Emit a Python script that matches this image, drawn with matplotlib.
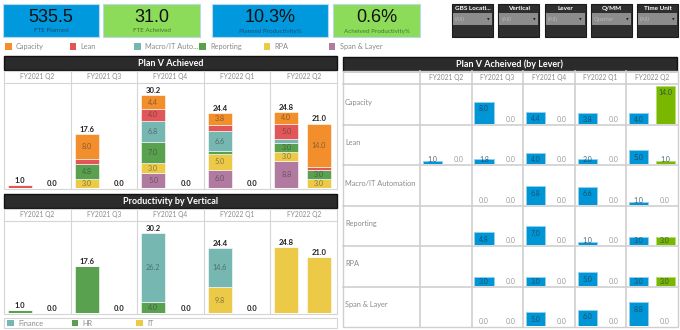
import matplotlib
matplotlib.use("Agg")
import matplotlib.pyplot as plt
from matplotlib.patches import Rectangle
import numpy as np

plt.rcParams['font.family'] = ['Lato', 'DejaVu Sans']

W, H = 680, 330

quarters = ['FY2021 Q2', 'FY2021 Q3', 'FY2021 Q4', 'FY2022 Q1', 'FY2022 Q2']
levers = ['Capacity', 'Lean', 'Macro/IT Automation', 'Reporting', 'RPA', 'Span & Layer']
lever_legend = ['Capacity', 'Lean', 'Macro/IT Auto...', 'Reporting', 'RPA', 'Span & Layer']
lever_colors = ['#F28E2B', '#E15759', '#76B7B2', '#59A14F', '#EDC948', '#B07AA1']

# None = no record for that quarter (blank cell in the lever table)
capacity_plan = [None, 8.0, 4.4, 3.8, 4.0]
capacity_ach = [None, 0.0, 0.0, 0.0, 14.0]
lean_plan = [1.0, 1.8, 4.0, 2.0, 5.0]
lean_ach = [0.0, 0.0, 0.0, 0.0, 1.0]
macro_plan = [None, 0.0, 6.8, 6.6, 1.0]
macro_ach = [None, 0.0, 0.0, 0.0, 0.0]
reporting_plan = [None, 4.8, 7.0, 1.0, 3.0]
reporting_ach = [None, 0.0, 0.0, 0.0, 3.0]
rpa_plan = [None, 3.0, 3.0, 5.0, 3.0]
rpa_ach = [None, 0.0, 0.0, 0.0, 3.0]
span_plan = [None, 0.0, 5.0, 6.0, 8.8]
span_ach = [None, 0.0, 0.0, 0.0, 0.0]

verticals = ['Finance', 'HR', 'IT']
vertical_colors = {'Finance': '#76B7B2', 'HR': '#59A14F', 'IT': '#EDC948'}
finance_plan = [0.0, 0.0, 26.2, 14.6, 0.0]
finance_ach = [0.0, 0.0, 0.0, 0.0, 0.0]
hr_plan = [1.0, 17.6, 4.0, 0.0, 0.0]
hr_ach = [0.0, 0.0, 0.0, 0.0, 0.0]
it_plan = [0.0, 0.0, 0.0, 9.8, 24.8]
it_ach = [0.0, 0.0, 0.0, 0.0, 21.0]

kpi_values = ['535.5', '31.0', '10.3%', '0.6%']
kpi_names = ['FTE Planned', 'FTE Acheived', 'Planned Productivity%', 'Acheived Productivity%']
filter_names = ['GBS Locati...', 'Vertical', 'Lever', 'Q/MM', 'Time Unit']
filter_values = ['(All)', '(All)', '(All)', 'Quarter', '(All)']

lever_plan = [capacity_plan, lean_plan, macro_plan, reporting_plan, rpa_plan, span_plan]
lever_ach = [capacity_ach, lean_ach, macro_ach, reporting_ach, rpa_ach, span_ach]


def clean(vals):  # treat missing as zero for stacking
    return [0.0 if v is None else v for v in vals]


def px_axes(fig, x0, y0, x1, y1):  # axes from pixel box, top-left origin
    ax = fig.add_axes([x0 / W, 1 - y1 / H, (x1 - x0) / W, (y1 - y0) / H])
    ax.set_facecolor('none')
    for s in ax.spines.values():
        s.set_visible(False)
    ax.set_xticks([])
    ax.set_yticks([])
    return ax


fig = plt.figure(figsize=(W / 100, H / 100), dpi=100)
fig.patch.set_facecolor('white')

bg = fig.add_axes([0, 0, 1, 1])
bg.set_xlim(0, W)
bg.set_ylim(H, 0)
bg.axis('off')

# KPI tiles
kpi_boxes = [(3, 99, '#0099DD'), (103, 200, '#8CDC5A'), (212, 328, '#0099DD'), (333, 420, '#8CDC5A')]
for (x0, x1, c), val, name in zip(kpi_boxes, kpi_values, kpi_names):
    bg.add_patch(Rectangle((x0, 4), x1 - x0, 33, facecolor=c, edgecolor='#b8d8ee', lw=0.8))
    sub = '#17507a' if c == '#0099DD' else '#3f7a2a'
    bg.text((x0 + x1) / 2, 18, val, ha='center', va='center', fontsize=13,
            family='Liberation Sans', color='#111111')
    bg.text((x0 + x1) / 2, 31, name, ha='center', va='center', fontsize=4.5, color=sub)

# filter boxes
for i, (fn, fv) in enumerate(zip(filter_names, filter_values)):
    x0 = 452 + i * 46.3
    bg.add_patch(Rectangle((x0, 4), 41, 33, facecolor='#2e2e2e', edgecolor='#1a1a1a', lw=0.8))
    bg.add_patch(Rectangle((x0 + 1, 13), 39, 12, facecolor='#8c8c8c', edgecolor='none'))
    bg.text(x0 + 20.5, 8.5, fn, ha='center', va='center', fontsize=4.6, color='white', weight='bold')
    bg.text(x0 + 3, 19, fv, ha='left', va='center', fontsize=4.2, color='#b5b5b5')
    bg.text(x0 + 36, 19.5, '\u25bc', ha='center', va='center', fontsize=2.5, color='#1a1a1a',
            family='DejaVu Sans')

# lever legend
for i, (name, c) in enumerate(zip(lever_legend, lever_colors)):
    lx = 5 + i * 64.7
    bg.add_patch(Rectangle((lx, 43), 6.5, 6.5, facecolor=c, edgecolor='none'))
    bg.text(lx + 11, 46.5, name, ha='left', va='center', fontsize=5.3, color='#8a8a8a')


def title_bar(x0, x1, y0, y1, text):
    bg.add_patch(Rectangle((x0, y0), x1 - x0, y1 - y0, facecolor='#2b2b2b', edgecolor='#111111', lw=1))
    bg.text((x0 + x1) / 2, (y0 + y1) / 2, text, ha='center', va='center', fontsize=6.5,
            color='white', weight='bold')


def quarter_header(x0, x1, y_text, y_line, y_bottom):
    cw = (x1 - x0) / len(quarters)
    for i, q in enumerate(quarters):
        bg.text(x0 + cw * (i + 0.5), y_text, q, ha='center', va='center', fontsize=4.8, color='#8a8a8a')
    bg.plot([x0, x1], [y_line, y_line], color='#d5d5d5', lw=0.8)
    for i in range(1, len(quarters)):
        bg.plot([x0 + cw * i, x0 + cw * i], [y_line - 12, y_bottom], color='#d5d5d5', lw=0.8)
    bg.add_patch(Rectangle((x0, y_line - 12), x1 - x0, y_bottom - y_line + 12, facecolor='none',
                           edgecolor='#d5d5d5', lw=0.8))


def stacked_panel(ax, plan_series, ach_series, colors, ymax, min_label, single_label):
    x = np.arange(len(quarters))
    ax.set_xlim(0, len(quarters))
    ax.set_ylim(0, ymax)
    for offset, series in ((0.24, plan_series), (0.73, ach_series)):
        bottom = np.zeros(len(quarters))
        counts = np.zeros(len(quarters))
        for vals in series:
            counts += np.array(vals) > 0
        for vals, c in zip(series, colors):
            vals = np.array(vals)
            ax.bar(x + offset, vals, 0.36, bottom=bottom, color=c, edgecolor='white', lw=0.4)
            for i, v in enumerate(vals):
                if v >= min_label and (single_label or counts[i] > 1):
                    ax.text(x[i] + offset, bottom[i] + v / 2, '%.1f' % v, ha='center', va='center',
                            fontsize=5.2, color='#333333', alpha=0.55)
            bottom += vals
        for i, t in enumerate(bottom):
            ax.text(x[i] + offset, t + ymax * 0.012, '%.1f' % t, ha='center', va='bottom',
                    fontsize=5.5, color='#222222', weight='bold')


# Plan V Achieved
title_bar(4, 337, 56, 70, 'Plan V Achieved')
quarter_header(4, 337, 77, 83, 189)
ax1 = px_axes(fig, 4, 83, 337, 188)
stacked_panel(ax1, [clean(s) for s in lever_plan[::-1]], [clean(s) for s in lever_ach[::-1]],
              lever_colors[::-1], 34.2, 2.5, True)

# Productivity by Vertical
title_bar(4, 337, 194, 208, 'Productivity by Vertical')
quarter_header(4, 337, 215, 221, 314)
ax2 = px_axes(fig, 4, 221, 337, 313)
stacked_panel(ax2, [hr_plan, it_plan, finance_plan], [hr_ach, it_ach, finance_ach],
              [vertical_colors['HR'], vertical_colors['IT'], vertical_colors['Finance']], 34.7, 2.5, False)

# vertical legend
bg.add_patch(Rectangle((4, 317.5), 333, 10.5, facecolor='none', edgecolor='#d5d5d5', lw=0.8))
for i, v in enumerate(verticals):
    lx = 7 + i * 64.6
    bg.add_patch(Rectangle((lx, 319.5), 6.5, 6.5, facecolor=vertical_colors[v], edgecolor='none'))
    bg.text(lx + 11, 323, v, ha='left', va='center', fontsize=5.3, color='#8a8a8a')

# Plan V Acheived (by Lever) table
title_bar(343, 677, 57, 71, 'Plan V Acheived (by Lever)')
tx0, tx1 = 420, 678
cw = (tx1 - tx0) / len(quarters)
row_edges = np.linspace(84, 327, len(levers) + 1)
for i, q in enumerate(quarters):
    bg.text(tx0 + cw * (i + 0.5), 77.5, q, ha='center', va='center', fontsize=4.8, color='#8a8a8a')
bg.add_patch(Rectangle((343, 71), tx1 - 343, 327 - 71, facecolor='none', edgecolor='#cfcfcf', lw=1))
for y in row_edges[:-1]:
    bg.plot([343, tx1], [y, y], color='#cfcfcf', lw=1.2)
for i in range(len(quarters)):
    bg.plot([tx0 + cw * i, tx0 + cw * i], [71, 327], color='#cfcfcf', lw=1.2)

for r, lever in enumerate(levers):
    top, bot = row_edges[r], row_edges[r + 1]
    bg.text(345, top + 18, lever, ha='left', va='center', fontsize=5.3, color='#8a8a8a')
    ax = px_axes(fig, tx0, top, tx1, bot - 1)
    ax.set_xlim(0, len(quarters))
    ax.set_ylim(0, 14.6)
    for offset, vals, c, ec in ((0.24, lever_plan[r], '#0096D6', '#8fd0f0'),
                                (0.75, lever_ach[r], '#7AB800', '#b5dc70')):
        for i, v in enumerate(vals):
            if v is None:
                continue
            xc = i + offset
            ax.bar(xc, v, 0.37, color=c, edgecolor=ec, lw=0.6)
            if v == 0:
                ax.text(xc, 1.6, '0.0', ha='center', va='center', fontsize=5, color='#9a9a9a')
            else:
                ax.text(xc, max(v - 2.6, 1.6), '%.1f' % v, ha='center', va='center', fontsize=5,
                        color='#1d3d55', alpha=0.8)

fig.savefig('out.png', dpi=100, facecolor='white')
